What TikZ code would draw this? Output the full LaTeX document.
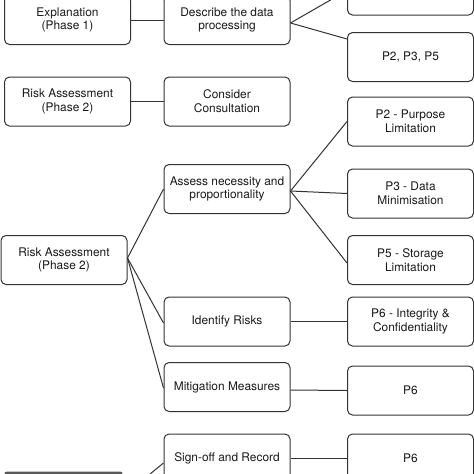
\documentclass[tikz,border=0pt]{standalone}
\usepackage{fontspec}
\setmainfont{TeX Gyre Heros}
\begin{document}
\begin{tikzpicture}[x=1pt,y=-1pt,
  box/.style={draw=black!80, rounded corners=5pt, minimum width=126pt, minimum height=49pt,
    align=center, font=\fontsize{11.9}{13.8}\selectfont, text=black!90, line width=1pt, inner sep=0pt},
  link/.style={draw=black!80, line width=1pt},
  darkbox/.style={draw=black!65, fill=black!65, rounded corners=2pt, minimum width=117pt, minimum height=49pt, inner sep=0pt, line width=1pt}]
\useasboundingbox (0,0) rectangle (474,474);
\clip (0,0) rectangle (474,474);
\node[box] (expl) at (67.5,20) {Explanation\\(Phase 1)};
\node[box] (desc) at (227,20) {Describe the data\\processing};
\node[box] (top3) at (410.5,-9.5) {};
\node[box] (p235) at (410.5,57) {P2, P3, P5};
\node[box] (risk1) at (67.5,101.5) {Risk Assessment\\(Phase 2)};
\node[box] (consult) at (227,101.5) {Consider\\Consultation};
\node[box] (p2) at (410.5,121.5) {P2 - Purpose\\Limitation};
\node[box] (assess) at (227,189) {Assess necessity and\\proportionality};
\node[box] (p3) at (410.5,193.5) {P3 - Data\\Minimisation};
\node[box] (risk2) at (64,260) {Risk Assessment\\(Phase 2)};
\node[box] (p5) at (410.5,260) {P5 - Storage\\Limitation};
\node[box] (identify) at (227,321.5) {Identify Risks};
\node[box] (p6a) at (410.5,321.5) {P6 - Integrity \&\\Confidentiality};
\node[box] (mitig) at (227,387) {Mitigation Measures};
\node[box] (p6b) at (410.5,390.5) {P6};
\node[box] (sign) at (227,458.5) {Sign-off and Record};
\node[box] (p6c) at (410.5,458.5) {P6};
\node[darkbox] (dark) at (63.5,496.5) {};
\draw[link] (expl.east) -- (desc.west);
\draw[link] ([yshift=-3pt]desc.east) -- (top3.west);
\draw[link] ([yshift=-3pt]desc.east) -- ([yshift=-7pt]p235.north west);
\draw[link] (risk1.east) -- (consult.west);
\draw[link] ([yshift=-2pt]assess.east) -- (p2.west);
\draw[link] ([yshift=-2pt]assess.east) -- (p3.west);
\draw[link] ([yshift=-2pt]assess.east) -- ([yshift=-3pt]p5.west);
\draw[link] ([yshift=2pt]risk2.east) -- (assess.west);
\draw[link] ([yshift=2pt]risk2.east) -- ([yshift=-1.5pt]identify.west);
\draw[link] ([yshift=2pt]risk2.east) -- ([yshift=-1pt]mitig.west);
\draw[link] (identify.east) -- (p6a.west);
\draw[link] ([yshift=-3pt]mitig.east) -- (p6b.west);
\draw[link] (sign.east) -- (p6c.west);
\draw[link] (dark.east) -- ([yshift=-4.5pt]sign.west);
\end{tikzpicture}
\end{document}
